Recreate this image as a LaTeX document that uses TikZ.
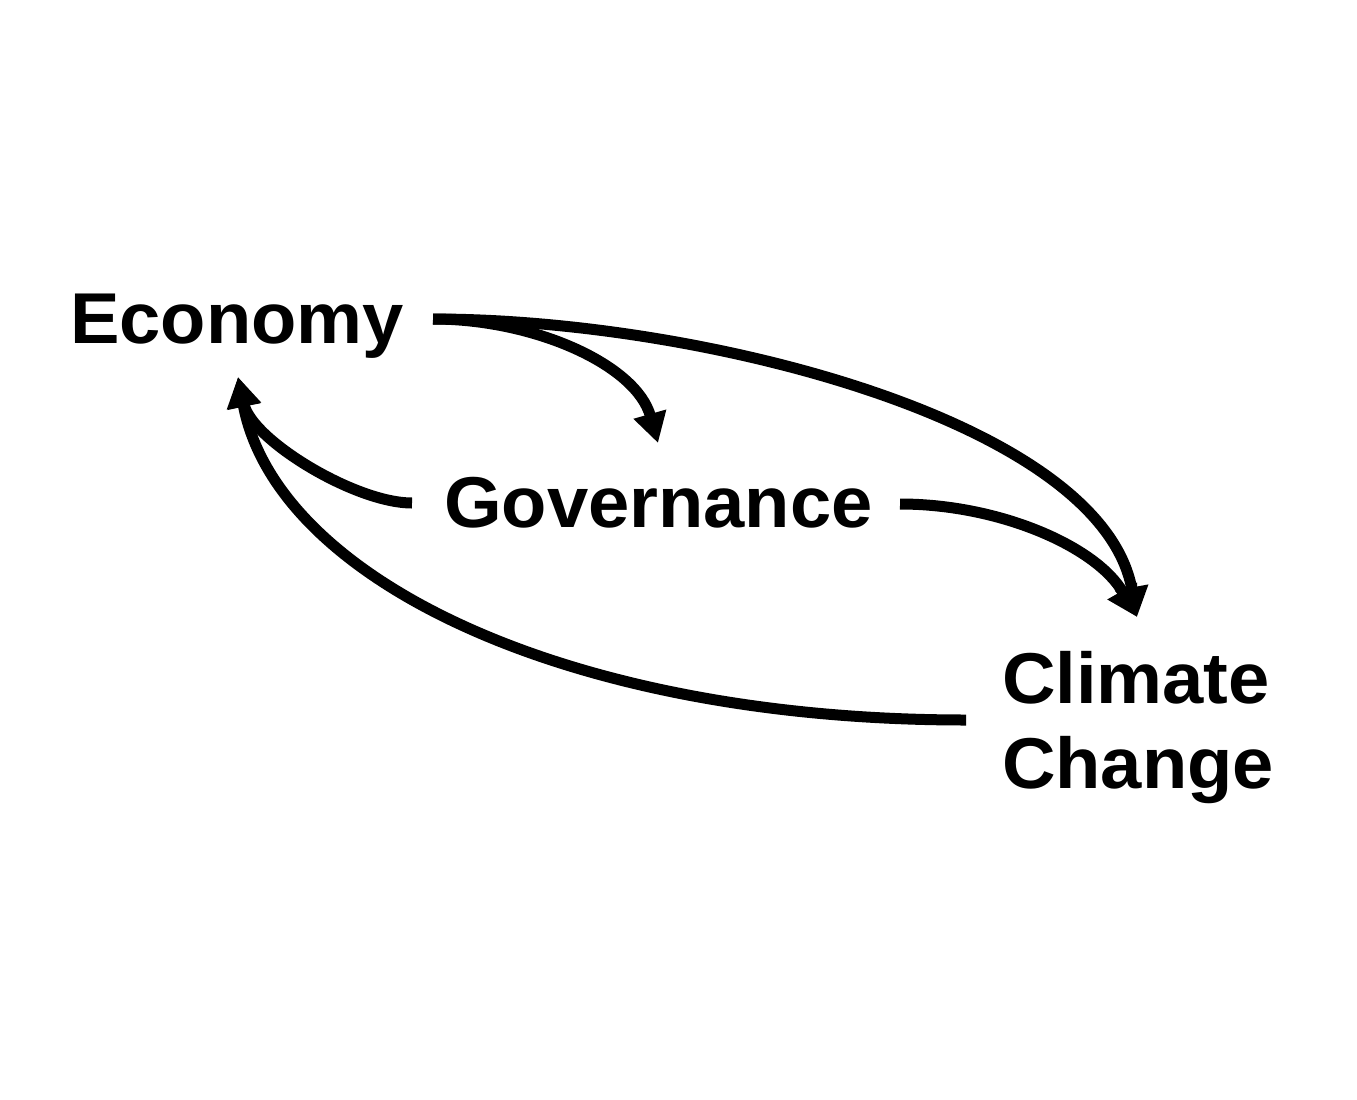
\documentclass[tikz,border=0pt]{standalone}
\usepackage{fontspec}
\newfontfamily\lab{Liberation Sans}[FakeStretch=1.03]
\usetikzlibrary{arrows.meta}
\tikzset{
  lbl/.style={inner sep=0pt, outer sep=0pt, anchor=base west, font=\lab\bfseries\fontsize{72}{85}\selectfont},
  conn/.style={line width=11pt, -{Triangle[length=30pt,width=32pt]}}
}
\begin{document}
\begin{tikzpicture}[x=1pt,y=-1pt]
\useasboundingbox[fill=white] (0,0) rectangle (1357,1100);
\node[lbl] (econ) at (70,343) {Economy};
\node[lbl] (gov) at (444,527) {Governance};
\node[lbl] (cc) at (1002,703) {\begin{tabular}[t]{@{}l@{}}Climate\\Change\end{tabular}};
% connector ends
\coordinate (eOut) at (433,319);
\coordinate (gTip) at (658,443);
\coordinate (gOutR) at (900,504);
\coordinate (gOutL) at (412,503);
\coordinate (cTip) at (1137,617);
\coordinate (cOut) at (966,720);
\coordinate (eTip) at (238,377);
% Economy -> Governance
\draw[conn] (eOut) .. controls (535,319) and (636,365) .. (gTip);
% Economy -> Climate Change
\draw[conn] (eOut) .. controls (700,319) and (1101,421) .. (cTip);
% Governance -> Climate Change
\draw[conn] (gOutR) .. controls (1000,504) and (1097,547) .. (cTip);
% Governance -> Economy
\draw[conn] (gOutL) .. controls (355,503) and (252,440) .. (eTip);
% Climate Change -> Economy
\draw[conn] (cOut) .. controls (565,720) and (276,578) .. (eTip);
\end{tikzpicture}
\end{document}
